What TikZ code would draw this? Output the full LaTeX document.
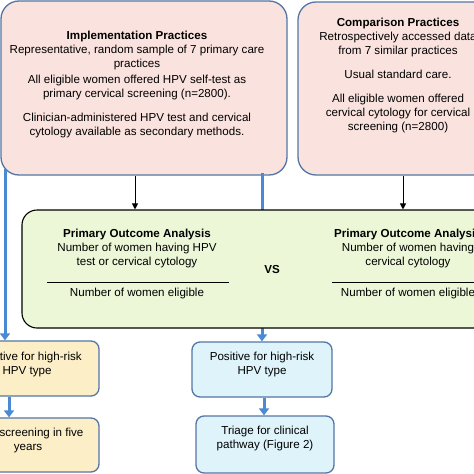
\documentclass[tikz,border=0pt]{standalone}
\usepackage{fontspec}
\setmainfont{Liberation Sans}
\usetikzlibrary{arrows.meta}
\definecolor{pinkfill}{RGB}{250,227,223}
\definecolor{boxdraw}{RGB}{84,118,166}
\definecolor{greenfill}{RGB}{236,247,216}
\definecolor{yellowfill}{RGB}{252,239,200}
\definecolor{cyanfill}{RGB}{222,244,250}
\definecolor{bluearrow}{RGB}{74,138,212}
\begin{document}
\begin{tikzpicture}[x=1pt,y=-1pt,
 box/.style={rectangle, draw=boxdraw, line width=1.3pt, inner sep=0pt},
 pinkbox/.style={box, fill=pinkfill, rounded corners=18pt},
 greenbox/.style={rectangle, draw=black, line width=1.1pt, fill=greenfill, rounded corners=15pt, inner sep=0pt},
 ybox/.style={box, fill=yellowfill, rounded corners=8pt},
 cbox/.style={box, fill=cyanfill, rounded corners=8pt},
 txt/.style={align=center, inner sep=0pt, font=\fontsize{11.6}{14}\selectfont, anchor=north},
 blk/.style={-{Triangle[width=6pt,length=6pt]}, line width=1pt, black},
 blu/.style={-{Triangle[width=10pt,length=7pt]}, line width=3pt, bluearrow},
]
\useasboundingbox (0,0) rectangle (474,474);
\fill[white] (0,0) rectangle (474,474);
\clip (0,0) rectangle (474,474);

% boxes
\node[pinkbox, minimum width=286pt, minimum height=174pt] (lp) at (144,88) {};
\node[pinkbox, minimum width=262pt, minimum height=173pt] (rp) at (429,88.5) {};
\node[ybox, minimum width=140pt, minimum height=55pt] (y1) at (29,368.5) {};
\node[ybox, minimum width=140pt, minimum height=54pt] (y2) at (29,445) {};
\node[cbox, minimum width=140pt, minimum height=55pt] (c1) at (262,369.5) {};
\node[cbox, minimum width=138pt, minimum height=57pt] (c2) at (265,444.5) {};

% long blue line passing behind the green box
\coordinate (bm0) at (262,173);
\draw[blu] (bm0) -- (c1.north -| bm0);

\node[greenbox, minimum width=518pt, minimum height=118pt] (gr) at (281,269) {};

% texts
\node[txt] (lpt) at (137,30.5) {\textbf{Implementation Practices}\\
Representative, random sample of 7 primary care\\
practices\\[2pt]
All eligible women offered HPV self-test as\\
primary cervical screening (n=2800).\\[10pt]
Clinician-administered HPV test and cervical\\
cytology available as secondary methods.};

\node[txt] (rpt) at (398,17.5) {\textbf{Comparison Practices}\\
Retrospectively accessed data\\
from 7 similar practices\\[10pt]
Usual standard care.\\[10pt]
All eligible women offered\\
cervical cytology for cervical\\
screening (n=2800)};

\node[txt] (glt) at (137,228.5) {\textbf{Primary Outcome Analysis}\\
Number of women having HPV\\
test or cervical cytology};
\draw[line width=0.8pt] (47,282) -- (229,282);
\node[txt] (glb) at (137,287.7) {Number of women eligible};

\node[txt] (grt) at (408,228.5) {\textbf{Primary Outcome Analysis}\\
Number of women having\\
cervical cytology};
\draw[line width=0.8pt] (332,282) -- (484,282);
\node[txt] (grb) at (408,287.7) {Number of women eligible};

\node[txt, anchor=center] (vs) at (272,270) {\textbf{VS}};

\node[txt] (y1t) at (27,351.5) {Negative for high-risk\\HPV type};
\node[txt] (y2t) at (28,427.5) {Next screening in five\\years};
\node[txt] (c1t) at (262,351.5) {Positive for high-risk\\HPV type};
\node[txt] (c2t) at (265,425.5) {Triage for clinical\\pathway (Figure 2)};

% connectors
\coordinate (xa) at (135,0);
\coordinate (xb) at (403,0);
\draw[blk] (lp.south -| xa) -- (gr.north -| xa);
\draw[blk] (rp.south -| xb) -- (gr.north -| xb);

\coordinate (bl0) at (5,169);
\draw[blu] (bl0) -- (y1.north -| bl0);
\coordinate (xy) at (9,0);
\draw[blu] (y1.south -| xy) -- (y2.north -| xy);
\coordinate (xc) at (264,0);
\draw[blu] (c1.south -| xc) -- (c2.north -| xc);
\end{tikzpicture}
\end{document}
